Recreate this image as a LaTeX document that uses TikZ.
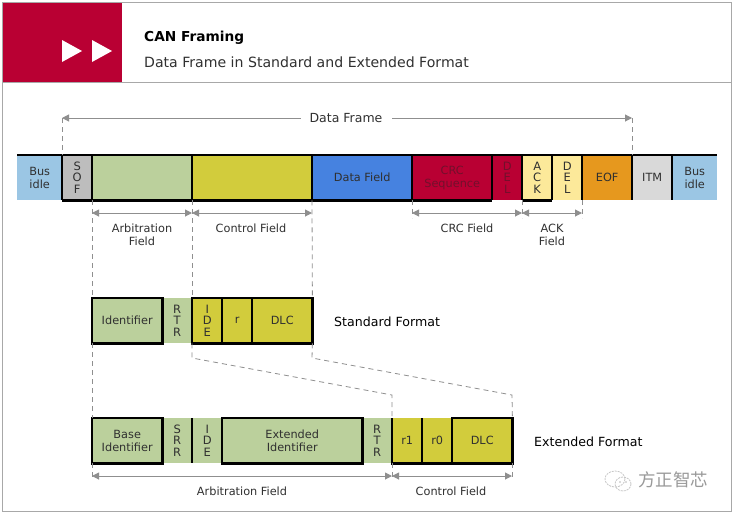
\documentclass[tikz,border=0pt]{standalone}
\usepackage{fontspec}
\setmainfont{DejaVu Sans}
\newfontfamily\cjk{Noto Sans CJK SC}
\usetikzlibrary{arrows.meta}
\definecolor{canred}{HTML}{B90033}
\definecolor{canredtxt}{HTML}{72102C}
\definecolor{busblue}{HTML}{9BC6E4}
\definecolor{sofgray}{HTML}{BDBDBD}
\definecolor{arbgreen}{HTML}{BBD09C}
\definecolor{ctlyellow}{HTML}{D2CC3C}
\definecolor{datablue}{HTML}{4682E0}
\definecolor{ackyellow}{HTML}{FCE99A}
\definecolor{eoforange}{HTML}{E6981E}
\definecolor{itmgray}{HTML}{D9D9D9}
\definecolor{guide}{HTML}{8F8F8F}
\definecolor{frameline}{HTML}{A8A8A8}
\definecolor{inktxt}{HTML}{303030}
\tikzset{
  x=1pt,y=-1pt,
  cell/.style={draw=none,inner sep=0pt,anchor=north west,minimum height=45pt,
    align=center,font=\fontsize{11.3}{13}\selectfont,text=inktxt,
    execute at begin node={\vspace*{2pt}}},
  stack/.style={font=\fontsize{11.5}{11.3}\selectfont},
  blk/.style={draw=black,line width=2.6pt,line cap=butt},
  blks/.style={draw=black,line width=2.6pt,line cap=rect},
  tick/.style={draw=guide,line width=0.8pt,dash pattern=on 5pt off 4pt},
  dim/.style={draw=guide,line width=1pt,{Triangle[length=7pt,width=7pt,fill=guide]}-{Triangle[length=7pt,width=7pt,fill=guide]}},
  halfl/.style={draw=guide,line width=1pt,{Triangle[length=7pt,width=7pt,fill=guide]}-},
  halfr/.style={draw=guide,line width=1pt,-{Triangle[length=7pt,width=7pt,fill=guide]}},
  lab/.style={inner sep=0pt,align=center,font=\fontsize{11.3}{13}\selectfont,text=inktxt},
  biglab/.style={inner sep=0pt,anchor=west,font=\fontsize{12.6}{14}\selectfont,text=black},
}
\begin{document}
\begin{tikzpicture}
\useasboundingbox (0,0) rectangle (733,512);
\fill[white] (0,0) rectangle (733,512);
% frame and header
\draw[frameline,line width=1pt] (2.5,2.5) rectangle (731,511);
\draw[frameline,line width=1pt] (2.5,82) -- (731,82);
\fill[canred] (3,3) rectangle (122,82);
\fill[white] (62,40) -- (82,51) -- (62,62) -- cycle;
\fill[white] (92,40) -- (112,51) -- (92,62) -- cycle;
\node[inner sep=0pt,anchor=west,font=\fontsize{13.7}{15}\bfseries\selectfont,text=black] (title) at (144,38) {CAN Framing};
\node[inner sep=0pt,anchor=west,font=\fontsize{14.1}{16}\selectfont,text=inktxt] (subtitle) at (144,62.5) {Data Frame in Standard and Extended Format};
% top bar
\node[cell,fill=busblue,minimum width=45pt] (busa) at (17,155) {Bus\\idle};
\node[cell,fill=sofgray,minimum width=30pt,stack] (sof) at (62,155) {S\\O\\F};
\node[cell,fill=arbgreen,minimum width=100pt] (arb) at (92,155) {};
\node[cell,fill=ctlyellow,minimum width=120pt] (ctl) at (192,155) {};
\node[cell,fill=datablue,minimum width=100pt] (data) at (312,155) {Data Field};
\node[cell,fill=canred,minimum width=80pt,text=canredtxt] (crc) at (412,155) {CRC\\Sequence};
\node[cell,fill=canred,minimum width=30pt,text=canredtxt,stack] (del) at (492,155) {D\\E\\L};
\node[cell,fill=ackyellow,minimum width=30pt,stack] (ack) at (522,155) {A\\C\\K};
\node[cell,fill=ackyellow,minimum width=30pt,stack] (dela) at (552,155) {D\\E\\L};
\node[cell,fill=eoforange,minimum width=50pt] (eof) at (582,155) {EOF};
\node[cell,fill=itmgray,minimum width=40pt] (itm) at (632,155) {ITM};
\node[cell,fill=busblue,minimum width=45pt] (busb) at (672,155) {Bus\\idle};
\draw[blk] (busa.north west) -- (busb.north east);
\draw[blk] (sof.south west) -- (crc.south east);
\draw[blk] (ack.south west) -- (ack.south east);
\foreach \n in {sof,arb,ctl,data,crc,del,ack,dela,eof,itm,busb}
  \draw[blk] (\n.north west) -- (\n.south west);
% standard format
\node[cell,fill=arbgreen,minimum width=70pt] (sid) at (92,298) {Identifier};
\node[cell,fill=arbgreen,minimum width=30pt,stack] (srtr) at (162,298) {R\\T\\R};
\node[cell,fill=ctlyellow,minimum width=30pt,stack] (side) at (192,298) {I\\D\\E};
\node[cell,fill=ctlyellow,minimum width=30pt] (sr) at (222,298) {r};
\node[cell,fill=ctlyellow,minimum width=60pt] (sdlc) at (252,298) {DLC};
\draw[blks] (sid.north west) rectangle (sid.south east);
\draw[blks] (side.north west) -- (sdlc.north east) -- (sdlc.south east) -- (side.south west) -- cycle;
\draw[blk] (sr.north west) -- (sr.south west);
\draw[blk] (sdlc.north west) -- (sdlc.south west);
% extended format
\node[cell,fill=arbgreen,minimum width=70pt] (ebase) at (92,418) {Base\\Identifier};
\node[cell,fill=arbgreen,minimum width=30pt,stack] (esrr) at (162,418) {S\\R\\R};
\node[cell,fill=arbgreen,minimum width=30pt,stack] (eide) at (192,418) {I\\D\\E};
\node[cell,fill=arbgreen,minimum width=140pt] (eext) at (222,418) {Extended\\Identifier};
\node[cell,fill=arbgreen,minimum width=30pt,stack] (ertr) at (362,418) {R\\T\\R};
\node[cell,fill=ctlyellow,minimum width=30pt] (eone) at (392,418) {r1};
\node[cell,fill=ctlyellow,minimum width=30pt] (ezero) at (422,418) {r0};
\node[cell,fill=ctlyellow,minimum width=60pt] (edlc) at (452,418) {DLC};
\draw[blks] (ebase.north west) rectangle (ebase.south east);
\draw[blks] (eext.north west) rectangle (eext.south east);
\draw[blks] (edlc.north west) rectangle (edlc.south east);
\draw[blk] (eide.north west) -- (eide.south west);
\draw[blks] (eone.south west) -- (edlc.south west);
\draw[blk] (eone.north west) -- (eone.south west);
\draw[blk] (ezero.north west) -- (ezero.south west);
% format labels
\node[biglab] (stdlab) at (334,322) {Standard Format};
\node[biglab] (extlab) at (534,442) {Extended Format};
% Data Frame span
\coordinate (dfl) at (62,118);
\coordinate (dfr) at (632,118);
\coordinate (dfm) at (301,118);
\coordinate (dfn) at (392,118);
\node[lab,font=\fontsize{12.5}{14}\selectfont] (dflab) at (346,118) {Data Frame};
\draw[halfl] (dfl) -- (dfm);
\draw[halfr] (dfn) -- (dfr);
\draw[tick] (dfl) -- (sof.north west);
\draw[tick] (dfr) -- (itm.north west);
% guides from top bar
\coordinate (ga) at (192,358);
\coordinate (gb) at (392,395);
\coordinate (gc) at (312,358);
\coordinate (gd) at (512,395);
\draw[tick] (arb.south west) -- (sid.north west);
\draw[tick] (ctl.south west) -- (side.north west);
\draw[tick] (data.south west) -- (sdlc.north east);
\draw[tick] (sid.south west) -- (ebase.north west);
\draw[tick] (side.south west) -- (ga) -- (gb) -- (eone.north west);
\draw[tick] (sdlc.south east) -- (gc) -- (gd) -- (edlc.north east);
% dimension ticks
\draw[tick] (crc.south west) -- ++(0,18);
\draw[tick] (ack.south west) -- ++(0,18);
\draw[tick] (eof.south west) -- ++(0,18);
\draw[tick] (ebase.south west) -- ++(0,16);
\draw[tick] (eone.south west) -- ++(0,16);
\draw[tick] (edlc.south east) -- ++(0,16);
% dimensions
\coordinate (a1) at (92,213); \coordinate (a2) at (192,213); \coordinate (a3) at (312,213);
\coordinate (c1) at (412,213); \coordinate (c2) at (522,213); \coordinate (c3) at (582,213);
\coordinate (e1) at (92,476); \coordinate (e2) at (392,476); \coordinate (e3) at (512,476);
\draw[dim] (a1) -- (a2);
\draw[dim] (a2) -- (a3);
\draw[dim] (c1) -- (c2);
\draw[dim] (c2) -- (c3);
\draw[dim] (e1) -- (e2);
\draw[dim] (e2) -- (e3);
\node[lab,anchor=north] (l1) at (142,223.5) {Arbitration\\Field};
\node[lab,anchor=north] (l2) at (251,223.5) {Control Field};
\node[lab,anchor=north] (l3) at (467,223.5) {CRC Field};
\node[lab,anchor=north] (l4) at (552,223.5) {ACK\\Field};
\node[lab,anchor=north] (l5) at (242,486.5) {Arbitration Field};
\node[lab,anchor=north] (l6) at (451,486.5) {Control Field};
% watermark
\draw[gray!45,line width=0.8pt,dash pattern=on 2pt off 1pt] (615,479) ellipse (10 and 8);
\draw[gray!45,line width=0.8pt,dash pattern=on 2pt off 1pt] (623,484) ellipse (8 and 7);
\fill[gray!55] (620,482) circle (0.8) (626,482) circle (0.8);
\node[inner sep=0pt,anchor=west,font=\cjk\fontsize{17.5}{19}\selectfont,text=gray!80] (wm) at (638,480) {方正智芯};
\end{tikzpicture}
\end{document}
